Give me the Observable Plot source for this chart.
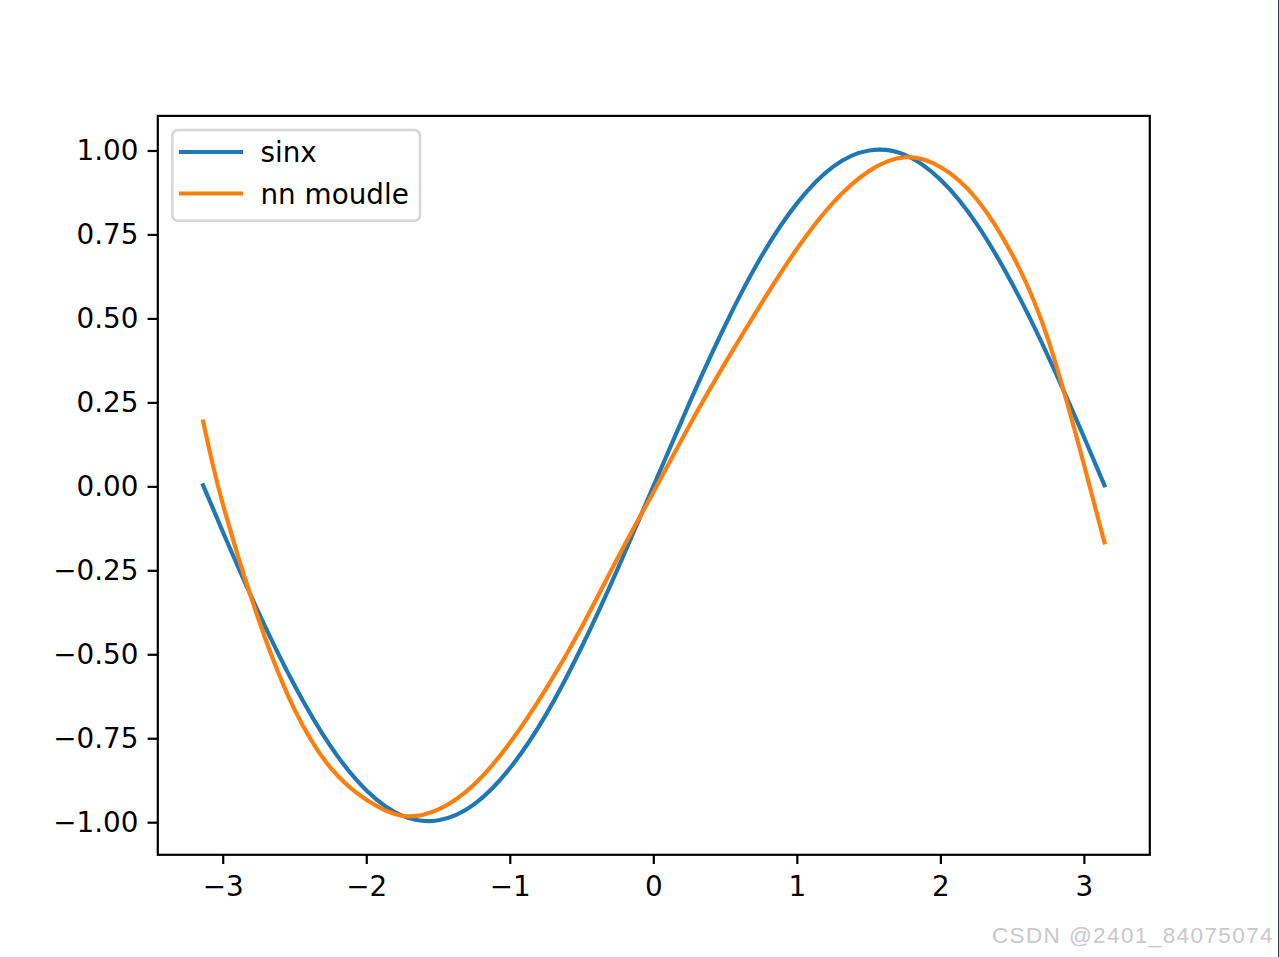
<!DOCTYPE html>
<html>
<head>
<meta charset="utf-8">
<script src="https://cdn.jsdelivr.net/npm/d3@7"></script>
<script src="https://cdn.jsdelivr.net/npm/@observablehq/plot@0.6"></script>
<style>
  html, body { margin: 0; padding: 0; background: white; }
  #wrap { position: relative; width: 1279px; height: 957px; overflow: hidden; }
  #edge { position: absolute; right: 0; top: 0; width: 1px; height: 957px; background: #37474f; }
</style>
</head>
<body>
<div id="wrap"><div id="edge"></div></div>
<script>
// Values
const xs   = [-3.14, -3.0, -2.75, -2.5, -2.25, -2.0, -1.75, -1.5, -1.25, -1.0, -0.75, -0.5, -0.25, 0.0,
              0.25, 0.5, 0.75, 1.0, 1.25, 1.5, 1.75, 2.0, 2.25, 2.5, 2.75, 3.0, 3.14];
const sinx = [0.0, -0.141, -0.382, -0.598, -0.778, -0.909, -0.984, -0.997, -0.949, -0.841, -0.682, -0.479, -0.247, 0.0,
              0.247, 0.479, 0.682, 0.841, 0.949, 0.997, 0.984, 0.909, 0.778, 0.598, 0.382, 0.141, 0.0];
const nn   = [0.19, -0.06, -0.404, -0.670, -0.842, -0.937, -0.984, -0.965, -0.890, -0.765, -0.605, -0.42, -0.215, -0.018,
              0.180, 0.366, 0.542, 0.706, 0.842, 0.936, 0.977, 0.947, 0.852, 0.685, 0.431, 0.057, -0.17];
const seriesNames = ["sinx", "nn moudle"];
const seriesColors = ["#1f77b4", "#ff7f0e"];
const xTicks = [-3, -2, -1, 0, 1, 2, 3];
const yTicks = [-1, -0.75, -0.5, -0.25, 0, 0.25, 0.5, 0.75, 1];
const watermark = "CSDN @2401_84075074";

const rows = [];
xs.forEach((x, i) => rows.push({x, y: sinx[i], s: seriesNames[0]}));
xs.forEach((x, i) => rows.push({x, y: nn[i], s: seriesNames[1]}));

const FS = 27.8;
const svg = Plot.plot({
  width: 1279,
  height: 957,
  marginLeft: 157.3,
  marginRight: 129.7,
  marginTop: 115.4,
  marginBottom: 102.7,
  x: {domain: [-3.4558, 3.4558]},
  y: {domain: [-1.1, 1.1]},
  color: {domain: seriesNames, range: seriesColors},
  style: {fontFamily: "DejaVu Sans", fontSize: FS + "px", background: "white", color: "black"},
  marks: [
    Plot.line(rows, {x: "x", y: "y", z: "s", stroke: "s", strokeWidth: 4.17, curve: "natural",
      strokeLinecap: "square", strokeLinejoin: "round"}),
    Plot.frame({stroke: "black", strokeWidth: 2.2}),
    Plot.axisX({ticks: xTicks, tickFormat: d3.format("d"), tickSize: 9.7, tickPadding: 12,
      strokeWidth: 2.2, label: null, fontSize: FS, fill: "black", stroke: "black"}),
    Plot.axisY({ticks: yTicks, tickFormat: d3.format(".2f"), tickSize: 9.7, tickPadding: 9.7,
      strokeWidth: 2.2, label: null, fontSize: FS, fill: "black", stroke: "black", dy: 1.5})
  ]
});

const s = d3.select(svg);
const lg = s.append("g").attr("font-family", "DejaVu Sans").attr("font-size", FS).attr("text-anchor", "start");
lg.append("rect").attr("x", 172.3).attr("y", 130).attr("width", 247.7).attr("height", 90.7)
  .attr("rx", 5.5).attr("fill", "white").attr("fill-opacity", 0.8)
  .attr("stroke", "#d6d6d6").attr("stroke-width", 2.6);
seriesNames.forEach((name, i) => {
  const ly = 152 + i * 41.5;
  lg.append("line").attr("x1", 181).attr("x2", 241).attr("y1", ly).attr("y2", ly)
    .attr("stroke", seriesColors[i]).attr("stroke-width", 4.17).attr("stroke-linecap", "square");
  lg.append("text").attr("x", 260.5).attr("y", 162.3 + i * 41.3).attr("fill", "black").text(name);
});
s.append("text").attr("x", 1274).attr("y", 943).attr("text-anchor", "end")
  .attr("font-family", "Liberation Sans, Arial, sans-serif").attr("font-size", 22.5)
  .attr("letter-spacing", 1.4)
  .attr("fill", "#c9c9c9").text(watermark);

document.getElementById("wrap").prepend(svg);
</script>
</body>
</html>
